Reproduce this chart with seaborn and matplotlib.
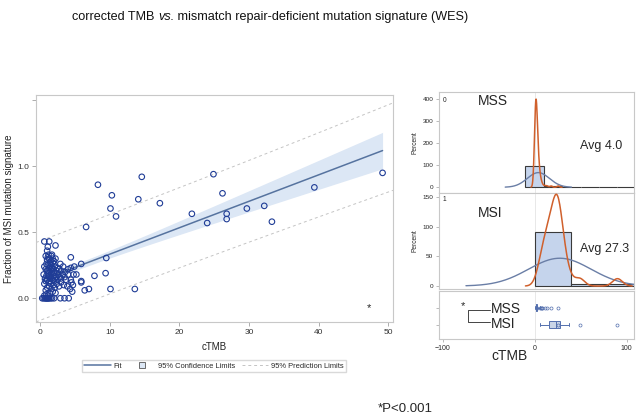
import numpy as np
import pandas as pd
import matplotlib
matplotlib.use('Agg')
import matplotlib.pyplot as plt
import seaborn as sns
from matplotlib.lines import Line2D

####### Data #######
# scatter: corrected TMB (x) vs fraction of MSI mutation signature (y)
ctmb = [0.3, 0.5, 0.7, 0.8, 0.9, 1.0, 1.1, 1.2, 1.3, 1.5, 1.7, 2.0, 2.9, 3.5, 4.1,
        0.6, 0.9, 1.1, 1.4, 1.8, 2.2, 0.8,
        1.0, 1.3, 1.6, 1.9, 2.1, 2.4, 2.7, 3.0, 3.4, 3.9, 4.3, 4.6, 4.7, 4.5, 0.6, 1.2, 1.5, 2.0,
        0.5, 0.7, 0.9, 1.0, 1.1, 1.3, 1.4, 1.5, 1.6, 1.7, 1.8, 1.9, 2.0, 2.1, 2.3, 2.5, 2.6, 2.8,
        3.0, 3.2, 3.5, 3.7, 4.0, 4.4, 4.8, 0.8, 1.2,
        0.6, 0.8, 0.9, 1.0, 1.1, 1.3, 1.4, 1.5, 1.6, 1.7, 1.8, 1.9, 2.1, 2.3, 2.5, 2.7, 3.0, 3.3,
        3.6, 4.0, 4.4, 4.9, 2.9,
        0.8, 1.0, 1.1, 1.3, 1.5, 1.6, 1.8, 2.0, 2.2, 1.2, 1.7, 4.4,
        0.6, 1.3, 1.1, 2.2, 1.0,
        5.2, 5.9, 5.9, 5.9, 6.4, 7.0, 6.6, 7.8, 8.3, 9.4, 9.5, 10.1, 10.1, 10.3, 10.9, 13.6,
        14.1, 14.6, 17.2, 21.8, 24.0, 24.9, 26.2, 26.8, 26.8, 29.7, 32.2, 33.3, 39.4, 49.2]
msi_frac = [0, 0, 0, 0, 0, 0, 0, 0, 0, 0, 0, 0, 0, 0, 0,
            0.02, 0.03, 0.02, 0.04, 0.05, 0.04, 0.06,
            0.08, 0.09, 0.07, 0.10, 0.08, 0.11, 0.09, 0.12, 0.10, 0.09, 0.07, 0.05, 0.10, 0.12, 0.11, 0.12, 0.11, 0.13,
            0.18, 0.15, 0.17, 0.14, 0.19, 0.16, 0.13, 0.18, 0.15, 0.20, 0.14, 0.17, 0.19, 0.15, 0.16, 0.14, 0.18, 0.16,
            0.15, 0.18, 0.16, 0.14, 0.18, 0.14, 0.18, 0.13, 0.21,
            0.24, 0.22, 0.26, 0.21, 0.25, 0.23, 0.27, 0.22, 0.25, 0.23, 0.27, 0.22, 0.24, 0.21, 0.23, 0.22, 0.21, 0.24,
            0.20, 0.22, 0.23, 0.24, 0.26,
            0.32, 0.29, 0.31, 0.30, 0.28, 0.32, 0.30, 0.28, 0.30, 0.33, 0.33, 0.31,
            0.43, 0.43, 0.39, 0.40, 0.36,
            0.18, 0.26, 0.13, 0.12, 0.06, 0.07, 0.54, 0.17, 0.86, 0.19, 0.305, 0.07, 0.68, 0.78, 0.62, 0.07,
            0.75, 0.92, 0.72, 0.64, 0.57, 0.94, 0.795, 0.64, 0.60, 0.68, 0.70, 0.58, 0.84, 0.95]

# cTMB by MSI status (right panels)
mss_ctmb = [0.2, 0.3, 0.3, 0.4, 0.4, 0.5, 0.5, 0.5, 0.6, 0.6, 0.6, 0.7, 0.7, 0.7, 0.7, 0.8, 0.8, 0.8, 0.8,
            0.9, 0.9, 0.9, 0.9, 1.0, 1.0, 1.0, 1.0, 1.0, 1.1, 1.1, 1.1, 1.1, 1.2, 1.2, 1.2, 1.2, 1.3, 1.3,
            1.3, 1.3, 1.4, 1.4, 1.4, 1.5, 1.5, 1.5, 1.5, 1.6, 1.6, 1.6, 1.7, 1.7, 1.7, 1.8, 1.8, 1.8, 1.9,
            1.9, 2.0, 2.0, 2.0, 2.1, 2.1, 2.2, 2.2, 2.3, 2.3, 2.4, 2.5, 2.5, 2.6, 2.7, 2.8, 2.9, 3.0, 3.0,
            3.1, 3.2, 3.3, 3.4, 3.5, 3.6, 3.7, 3.8, 4.0, 4.1, 4.3, 4.5, 4.6, 4.8, 5.0, 5.2, 5.5, 5.9, 6.3,
            6.8, 7.5, 8.4, 11.0, 13.5, 18.0, 25.5]
msi_ctmb = [6, 8, 10, 12, 14, 15, 16, 18, 20, 21, 22, 23, 24, 24, 25, 26, 26, 27, 28, 29, 32, 37, 49, 90]

groups = ['MSS', 'MSI']
panel_ids = ['0', '1']
avg_labels = ['Avg 4.0', 'Avg 27.3']
# normal fit (mean, sd)
norm_mean = [4.0, 27.3]
norm_sd = [12.0, 34.0]
bin_width = [20, 40]
bin_start = [-10, 0]
kde_bw = [1.0, 0.6]

pt_col = '#1f3c96'
fit_col = '#56739f'
band_col = '#dce7f5'
pi_col = '#c4c4c4'
spine_col = '#c8c8c8'
hist_fill = '#c5d4ec'
kde_col = '#d0602c'
norm_col = '#6a7ea6'
box_line = '#5470ae'

sns.set_style('ticks')
plt.rcParams['font.family'] = ['Liberation Sans', 'DejaVu Sans']

fig = plt.figure(figsize=(6.41, 4.19), dpi=100)

# title with italic "vs."
r = fig.canvas.get_renderer()
parts = [('corrected TMB ', 'normal'), ('vs.', 'italic'),
         (' mismatch repair-deficient mutation signature (WES)', 'normal')]
xpos = 72 / 641
for txt, st in parts:
    t = fig.text(xpos, 1 - 17 / 419, txt, fontsize=9.1, style=st, va='center', ha='left', color='#111111')
    bb = t.get_window_extent(renderer=r)
    xpos += bb.width / fig.bbox.width

######################## Scatter + regression ########################
ax = fig.add_axes([36 / 641, 1 - 322 / 419, 357 / 641, 227 / 419])
x = np.array(ctmb)
y = np.array(msi_frac)

# OLS confidence / prediction limits
slope, icpt = np.polyfit(x, y, 1)
n = len(x)
s_res = np.sqrt(np.sum((y - (icpt + slope * x)) ** 2) / (n - 2))
sxx = np.sum((x - x.mean()) ** 2)
t_val = 1.977
xg = np.linspace(x.min(), x.max(), 200)
se_fit = s_res * np.sqrt(1 / n + (xg - x.mean()) ** 2 / sxx)
ax.fill_between(xg, icpt + slope * xg - t_val * se_fit, icpt + slope * xg + t_val * se_fit,
                color=band_col, lw=0, zorder=1)
xp = np.linspace(-0.6, 50.7, 200)
se_pred = s_res * np.sqrt(1 + 1 / n + (xp - x.mean()) ** 2 / sxx)
ax.plot(xp, icpt + slope * xp + t_val * se_pred, ls=(0, (3, 3)), color=pi_col, lw=0.7, zorder=2)
ax.plot(xp, icpt + slope * xp - t_val * se_pred, ls=(0, (3, 3)), color=pi_col, lw=0.7, zorder=2)

sns.regplot(x=x, y=y, scatter=False, ci=None, ax=ax, line_kws={'color': fit_col, 'lw': 1.1, 'zorder': 3})
sns.scatterplot(x=x, y=y, ax=ax, marker='o', s=16, facecolor='none', edgecolor=pt_col, linewidth=0.8, zorder=4)

ax.set_xlim(-0.6, 50.7)
ax.set_ylim(-0.18, 1.54)
ax.set_xticks([0, 10, 20, 30, 40, 50])
ax.set_yticks([0, 0.5, 1.0, 1.5])
ax.set_yticklabels(['0.0', '0.5', '1.0', ''])
ax.tick_params(length=3, width=0.6, color='#a0a0a0', labelsize=6, labelcolor='#333333', pad=2)
for sp in ax.spines.values():
    sp.set_color(spine_col)
    sp.set_linewidth(0.8)
ax.set_xlabel('cTMB', fontsize=7, color='#222222', labelpad=4)
ax.set_ylabel('Fraction of MSI mutation signature', fontsize=7, color='#222222', labelpad=2)
ax.text(0.933, 0.062, '*', transform=ax.transAxes, fontsize=8, ha='center', va='center')

handles = [Line2D([], [], color=fit_col, lw=1.1),
           Line2D([], [], ls='none', marker='s', ms=4, mfc=band_col, mec='#555555', mew=0.6),
           Line2D([], [], color=pi_col, lw=0.7, ls=(0, (3, 3)))]
fig.legend(handles, ['Fit', '95% Confidence Limits', '95% Prediction Limits'], loc='center',
           bbox_to_anchor=(214 / 641, 1 - 366 / 419), ncol=3, fontsize=5.4, frameon=True,
           fancybox=False, edgecolor='#d0d0d0', handlelength=3.5, handletextpad=0.4,
           columnspacing=0.9, borderpad=0.35)

######################## Histograms by MSI status ########################
right_l = 439 / 641
right_w = 195 / 641
ax1 = fig.add_axes([right_l, 1 - 193 / 419, right_w, 101 / 419])
ax2 = fig.add_axes([right_l, 1 - 289 / 419, right_w, 96 / 419], sharex=ax1)
ax3 = fig.add_axes([right_l, 1 - 339 / 419, right_w, 48 / 419], sharex=ax1)

vals = [mss_ctmb, msi_ctmb]
ylims = [(-26, 432), (-5, 157)]
yticks = [[0, 100, 200, 300, 400], [0, 50, 100, 150]]
lab_y = [(0.91, 0.465, 0.92), (0.79, 0.417, 0.93)]
for i, a in enumerate([ax1, ax2]):
    a.axvline(0, color='#e4e4e4', lw=0.6, zorder=0)
    n_before = len(a.lines)
    bins = np.arange(bin_start[i], 161, bin_width[i])
    sns.histplot(x=vals[i], bins=bins, stat='percent', kde=True,
                 kde_kws={'bw_adjust': kde_bw[i], 'cut': 3},
                 color=hist_fill, edgecolor='#3a3a3a', linewidth=0.8, alpha=1, ax=a)
    for ln in a.lines[n_before:]:
        ln.set_color(kde_col)
        ln.set_linewidth(1.1)
        ln.set_zorder(4)
    xs = np.linspace(norm_mean[i] - 3 * norm_sd[i], norm_mean[i] + 3 * norm_sd[i], 200)
    pdf = np.exp(-0.5 * ((xs - norm_mean[i]) / norm_sd[i]) ** 2) / (norm_sd[i] * np.sqrt(2 * np.pi))
    a.plot(xs, pdf * bin_width[i] * 100, color=norm_col, lw=1.0, zorder=3)
    a.set_ylim(*ylims[i])
    a.set_yticks(yticks[i])
    a.set_ylabel('Percent', fontsize=4.8, labelpad=3)
    a.tick_params(axis='y', length=2.5, width=0.5, color='#a0a0a0', labelsize=4.6, pad=1.5)
    a.tick_params(axis='x', length=0, labelbottom=False)
    a.set_xlabel('')
    a.text(0.02, lab_y[i][2], panel_ids[i], transform=a.transAxes, fontsize=4.8, va='center')
    a.text(0.2, lab_y[i][0], groups[i], transform=a.transAxes, fontsize=10, va='center')
    a.text(0.723, lab_y[i][1], avg_labels[i], transform=a.transAxes, fontsize=9, va='center')

######################## Boxplot ########################
box_df = pd.DataFrame({'cTMB': mss_ctmb + msi_ctmb,
                       'group': ['MSS'] * len(mss_ctmb) + ['MSI'] * len(msi_ctmb)})
ax3.axvline(0, color='#e4e4e4', lw=0.6, zorder=0)
sns.boxplot(data=box_df, x='cTMB', y='group', order=groups, width=0.38, color=hist_fill,
            linecolor=box_line, linewidth=0.7, fliersize=2.2, showmeans=True,
            meanprops={'marker': 'o', 'markerfacecolor': 'none', 'markeredgecolor': box_line,
                       'markersize': 2.2, 'markeredgewidth': 0.5},
            flierprops={'marker': 'o', 'markerfacecolor': 'none', 'markeredgecolor': box_line,
                        'markeredgewidth': 0.5},
            ax=ax3)
ax3.set_ylim(1.86, -0.99)
ax3.set_yticks([0, 1])
ax3.set_yticklabels(['', ''])
ax3.set_ylabel('')
ax3.set_xlim(-104, 108)
ax3.set_xticks([-100, 0, 100])
ax3.tick_params(axis='x', length=2.5, width=0.5, color='#a0a0a0', labelsize=5, pad=2)
ax3.tick_params(axis='y', length=2.5, width=0.5, color='#a0a0a0')
ax3.set_xlabel('cTMB', fontsize=10)
ax3.xaxis.set_label_coords(0.36, -0.2)
# significance bracket
ax3.plot([-49, -72.7, -72.7, -49], [0.16, 0.16, 0.86, 0.86], color='#444444', lw=0.7)
ax3.text(-77.4, -0.1, '*', fontsize=8, ha='center', va='center')
ax3.text(-47.2, 0.1, 'MSS', fontsize=10, va='center')
ax3.text(-47.2, 0.98, 'MSI', fontsize=10, va='center')

for a in [ax1, ax2, ax3]:
    for sp in a.spines.values():
        sp.set_color(spine_col)
        sp.set_linewidth(0.8)

fig.text(405 / 641, 1 - 409 / 419, '*P<0.001', fontsize=9.5, ha='center', va='center')

fig.savefig('out.png', dpi=100)
